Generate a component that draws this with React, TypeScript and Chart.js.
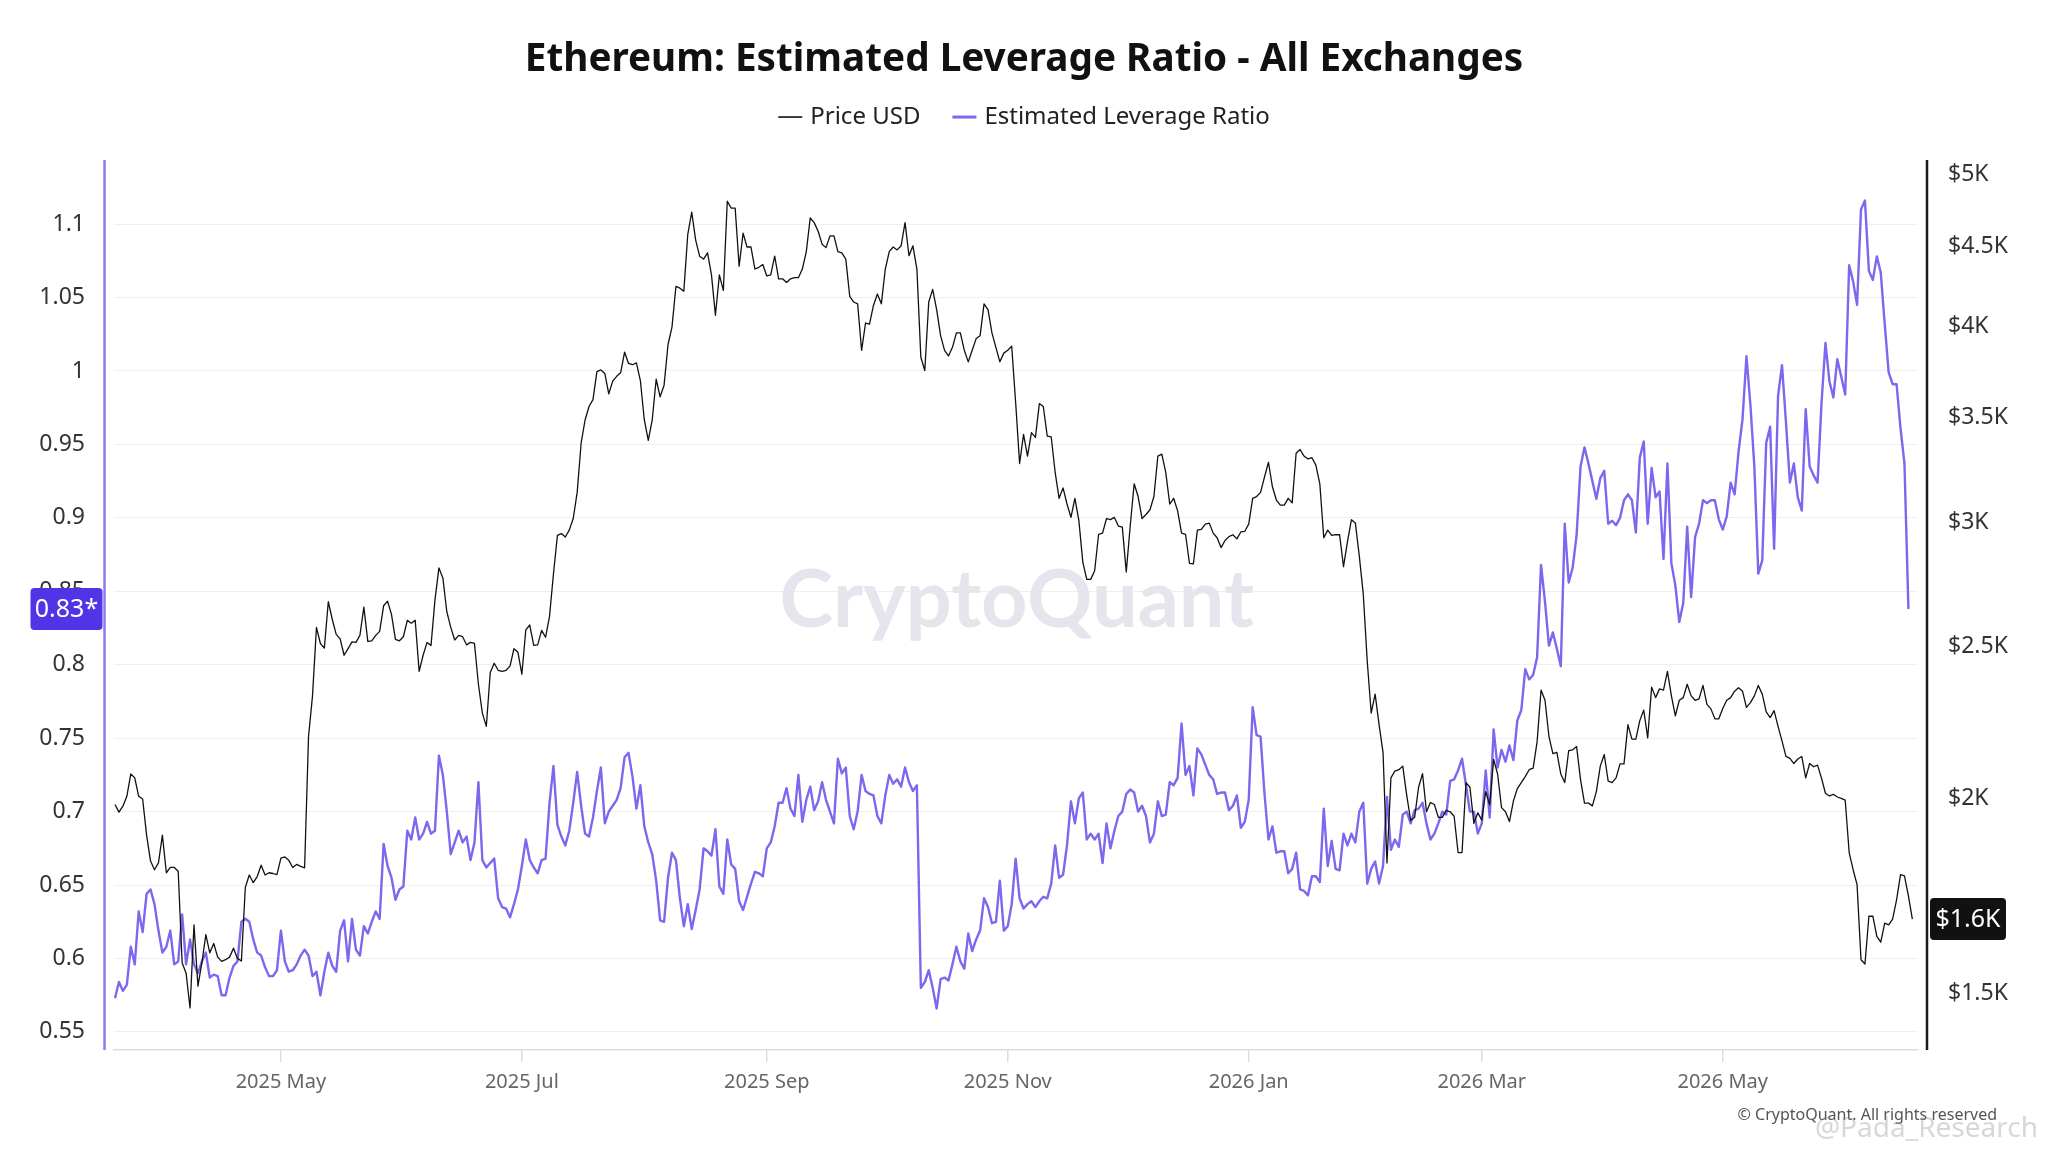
import { useEffect, useRef } from 'react';
import { Chart, registerables } from 'chart.js';

Chart.register(...registerables);

// ---------------- data ----------------
const START_DATE = '2025-03-20';

const priceUsd = [
  1981, 1959, 1976, 2005, 2072, 2060, 2005, 1997, 1894, 1823,
  1800, 1818, 1894, 1792, 1806, 1806, 1796, 1570, 1546, 1469,
  1660, 1517, 1570, 1636, 1593, 1615, 1583, 1573, 1577, 1583,
  1604, 1580, 1574, 1754, 1786, 1766, 1782, 1812, 1786, 1792,
  1790, 1787, 1831, 1834, 1825, 1806, 1814, 1809, 1805, 2190,
  2324, 2570, 2510, 2493, 2669, 2601, 2544, 2527, 2467, 2491,
  2516, 2514, 2540, 2648, 2518, 2520, 2540, 2555, 2653, 2671,
  2619, 2525, 2520, 2535, 2597, 2586, 2597, 2409, 2467, 2514,
  2503, 2675, 2805, 2764, 2630, 2570, 2523, 2540, 2535, 2505,
  2514, 2510, 2364, 2266, 2222, 2405, 2438, 2413, 2409, 2413,
  2428, 2491, 2478, 2399, 2561, 2579, 2503, 2505, 2559, 2533,
  2612, 2781, 2942, 2950, 2935, 2965, 3016, 3134, 3369, 3486,
  3556, 3592, 3743, 3752, 3733, 3623, 3691, 3717, 3736, 3852,
  3788, 3781, 3791, 3694, 3486, 3383, 3486, 3701, 3607, 3669,
  3895, 3996, 4242, 4231, 4213, 4580, 4731, 4541, 4435, 4416,
  4457, 4315, 4066, 4315, 4217, 4808, 4759, 4759, 4370, 4588,
  4495, 4495, 4352, 4363, 4381, 4308, 4315, 4435, 4290, 4290,
  4267, 4290, 4297, 4297, 4352, 4465, 4691, 4659, 4600, 4514,
  4491, 4569, 4569, 4465, 4457, 4416, 4181, 4146, 4135, 3862,
  4020, 4013, 4125, 4195, 4135, 4352, 4465, 4495, 4476, 4503,
  4659, 4438, 4503, 4352, 3823, 3749, 4146, 4224, 4100, 3946,
  3862, 3830, 3879, 3962, 3962, 3862, 3797, 3862, 3929, 3946,
  4135, 4100, 3962, 3879, 3797, 3846, 3862, 3885, 3577, 3270,
  3413, 3306, 3422, 3398, 3571, 3556, 3404, 3401, 3228, 3107,
  3155, 3081, 3021, 3107, 3008, 2829, 2758, 2758, 2793, 2947,
  2952, 3016, 3011, 3021, 2983, 2978, 2788, 2983, 3174, 3115,
  3016, 3034, 3055, 3115, 3306, 3315, 3228, 3081, 3107, 3050,
  2952, 2947, 2824, 2822, 2965, 2968, 2991, 2996, 2952, 2932,
  2890, 2920, 2937, 2945, 2927, 2957, 2960, 2991, 3107, 3115,
  3134, 3206, 3276, 3160, 3099, 3076, 3076, 3107, 3086, 3320,
  3338, 3306, 3292, 3298, 3262, 3174, 2932, 2965, 2942, 2945,
  2945, 2810, 2915, 3011, 2996, 2853, 2699, 2446, 2266, 2330,
  2228, 2139, 1818, 2060, 2081, 2085, 2096, 2008, 1935, 1944,
  2032, 2073, 1960, 1987, 1981, 1944, 1944, 1964, 1960, 1947,
  1846, 1846, 2046, 2032, 1927, 1957, 1936, 2019, 1980, 2117,
  2072, 1972, 1960, 1932, 1991, 2028, 2046, 2064, 2085, 2090,
  2172, 2344, 2309, 2190, 2135, 2139, 2072, 2046, 2144, 2147,
  2157, 2055, 1985, 1985, 1977, 2019, 2096, 2132, 2050, 2046,
  2060, 2103, 2103, 2228, 2181, 2181, 2241, 2276, 2185, 2354,
  2318, 2348, 2344, 2409, 2324, 2257, 2309, 2318, 2364, 2324,
  2309, 2314, 2360, 2295, 2280, 2247, 2247, 2281, 2309, 2318,
  2340, 2352, 2340, 2285, 2301, 2324, 2360, 2330, 2270, 2251,
  2274, 2222, 2175, 2126, 2120, 2104, 2118, 2126, 2060, 2104,
  2094, 2099, 2059, 2014, 2006, 2011, 2003, 1999, 1994, 1846,
  1800, 1761, 1577, 1567, 1681, 1681, 1632, 1618, 1664, 1660,
  1674, 1722, 1787, 1784, 1732, 1674,
];

const leverageRatio = [
  0.573, 0.584, 0.578, 0.582, 0.608, 0.596, 0.632, 0.618, 0.644, 0.647,
  0.637, 0.619, 0.604, 0.608, 0.619, 0.596, 0.598, 0.630, 0.596, 0.613,
  0.596, 0.590, 0.598, 0.604, 0.587, 0.589, 0.588, 0.575, 0.575, 0.587,
  0.595, 0.598, 0.625, 0.627, 0.625, 0.613, 0.604, 0.602, 0.594, 0.588,
  0.588, 0.592, 0.619, 0.598, 0.591, 0.592, 0.596, 0.602, 0.606, 0.602,
  0.588, 0.591, 0.575, 0.591, 0.604, 0.595, 0.591, 0.619, 0.626, 0.598,
  0.627, 0.606, 0.602, 0.622, 0.617, 0.625, 0.632, 0.627, 0.678, 0.663,
  0.655, 0.640, 0.647, 0.649, 0.687, 0.681, 0.696, 0.681, 0.685, 0.693,
  0.685, 0.687, 0.738, 0.725, 0.700, 0.671, 0.679, 0.687, 0.679, 0.683,
  0.667, 0.679, 0.720, 0.667, 0.662, 0.665, 0.668, 0.641, 0.635, 0.634,
  0.628, 0.637, 0.647, 0.663, 0.681, 0.667, 0.662, 0.658, 0.667, 0.668,
  0.706, 0.731, 0.691, 0.683, 0.677, 0.687, 0.706, 0.727, 0.704, 0.685,
  0.683, 0.696, 0.714, 0.730, 0.692, 0.700, 0.704, 0.708, 0.716, 0.737,
  0.740, 0.724, 0.702, 0.718, 0.690, 0.679, 0.671, 0.653, 0.626, 0.625,
  0.655, 0.672, 0.667, 0.641, 0.622, 0.637, 0.620, 0.633, 0.647, 0.675,
  0.673, 0.670, 0.688, 0.649, 0.644, 0.681, 0.664, 0.661, 0.639, 0.633,
  0.642, 0.651, 0.659, 0.658, 0.656, 0.675, 0.679, 0.690, 0.706, 0.706,
  0.716, 0.702, 0.697, 0.725, 0.693, 0.708, 0.717, 0.701, 0.707, 0.720,
  0.708, 0.700, 0.692, 0.736, 0.726, 0.730, 0.697, 0.688, 0.700, 0.725,
  0.714, 0.712, 0.711, 0.697, 0.692, 0.711, 0.725, 0.719, 0.722, 0.717,
  0.730, 0.720, 0.714, 0.718, 0.580, 0.584, 0.592, 0.580, 0.566, 0.586,
  0.587, 0.585, 0.596, 0.608, 0.598, 0.593, 0.617, 0.605, 0.613, 0.619,
  0.641, 0.635, 0.624, 0.625, 0.653, 0.619, 0.622, 0.637, 0.668, 0.641,
  0.634, 0.637, 0.639, 0.635, 0.639, 0.642, 0.641, 0.651, 0.677, 0.655,
  0.657, 0.677, 0.707, 0.692, 0.709, 0.713, 0.681, 0.685, 0.681, 0.685,
  0.665, 0.692, 0.675, 0.687, 0.697, 0.700, 0.712, 0.715, 0.713, 0.700,
  0.704, 0.697, 0.679, 0.685, 0.707, 0.697, 0.698, 0.720, 0.718, 0.723,
  0.760, 0.725, 0.731, 0.711, 0.743, 0.739, 0.732, 0.725, 0.722, 0.712,
  0.713, 0.713, 0.701, 0.704, 0.711, 0.689, 0.693, 0.708, 0.771, 0.752,
  0.751, 0.712, 0.681, 0.690, 0.672, 0.673, 0.673, 0.658, 0.661, 0.672,
  0.647, 0.646, 0.643, 0.656, 0.656, 0.652, 0.702, 0.663, 0.680, 0.661,
  0.660, 0.685, 0.677, 0.685, 0.679, 0.700, 0.706, 0.651, 0.661, 0.666,
  0.651, 0.663, 0.710, 0.674, 0.681, 0.676, 0.698, 0.700, 0.692, 0.701,
  0.702, 0.706, 0.692, 0.681, 0.685, 0.692, 0.700, 0.698, 0.721, 0.722,
  0.728, 0.736, 0.718, 0.700, 0.700, 0.685, 0.692, 0.728, 0.696, 0.756,
  0.730, 0.742, 0.734, 0.745, 0.735, 0.762, 0.769, 0.797, 0.790, 0.793,
  0.805, 0.868, 0.843, 0.813, 0.822, 0.811, 0.799, 0.896, 0.856, 0.866,
  0.888, 0.935, 0.948, 0.937, 0.925, 0.913, 0.927, 0.932, 0.896, 0.898,
  0.895, 0.900, 0.912, 0.916, 0.912, 0.890, 0.941, 0.952, 0.896, 0.934,
  0.914, 0.918, 0.872, 0.937, 0.869, 0.854, 0.829, 0.842, 0.894, 0.846,
  0.887, 0.896, 0.912, 0.910, 0.912, 0.912, 0.899, 0.892, 0.901, 0.924,
  0.916, 0.945, 0.967, 1.010, 0.977, 0.935, 0.862, 0.871, 0.951, 0.962,
  0.879, 0.983, 1.004, 0.965, 0.924, 0.937, 0.914, 0.905, 0.974, 0.935,
  0.929, 0.924, 0.978, 1.019, 0.993, 0.982, 1.008, 0.996, 0.984, 1.072,
  1.061, 1.045, 1.110, 1.116, 1.068, 1.062, 1.078, 1.067, 1.032, 0.999,
  0.991, 0.991, 0.961, 0.937, 0.838,
];

const leverageTicks = [0.55, 0.6, 0.65, 0.7, 0.75, 0.8, 0.85, 0.9, 0.95, 1, 1.05, 1.1];
const priceTicks = [1500, 2000, 2500, 3000, 3500, 4000, 4500, 5000];
const monthTickDates = ['2025-05-01', '2025-07-01', '2025-09-01', '2025-11-01', '2026-01-01', '2026-03-01', '2026-05-01'];
const monthTickLabels = ['2025 May', '2025 Jul', '2025 Sep', '2025 Nov', '2026 Jan', '2026 Mar', '2026 May'];

const LEVERAGE_RANGE = [0.5377, 1.1436];
const PRICE_RANGE = [1381, 5108];
const DAY_RANGE = [-0.25, 456.3];

const TITLE = 'Ethereum: Estimated Leverage Ratio - All Exchanges';
const SERIES_NAMES = ['Price USD', 'Estimated Leverage Ratio'];

// ---------------- styles ----------------
const FONT = "'Noto Sans', 'DejaVu Sans', sans-serif";
const PURPLE = '#7B68EE';
const PRICE_COLOR = '#111111';

function dayOffset(iso: string): number {
  return Math.round((Date.parse(iso) - Date.parse(START_DATE)) / 86400000);
}

const monthTickDays = monthTickDates.map(dayOffset);

function roundRect(ctx: CanvasRenderingContext2D, x: number, y: number, w: number, h: number, r: number) {
  ctx.beginPath();
  ctx.moveTo(x + r, y);
  ctx.lineTo(x + w - r, y);
  ctx.quadraticCurveTo(x + w, y, x + w, y + r);
  ctx.lineTo(x + w, y + h - r);
  ctx.quadraticCurveTo(x + w, y + h, x + w - r, y + h);
  ctx.lineTo(x + r, y + h);
  ctx.quadraticCurveTo(x, y + h, x, y + h - r);
  ctx.lineTo(x, y + r);
  ctx.quadraticCurveTo(x, y, x + r, y);
  ctx.closePath();
}

const watermarkPlugin = {
  id: 'cqWatermark',
  beforeDatasetsDraw(chart: any) {
    const { ctx, chartArea } = chart;
    ctx.save();
    ctx.font = "bold 81px 'Lato', 'Noto Sans', sans-serif";
    ctx.fillStyle = '#e6e5ed';
    ctx.textAlign = 'center';
    ctx.textBaseline = 'alphabetic';
    const cx = chartArea.left + (chartArea.right - chartArea.left) * 0.50;
    ctx.fillText('CryptoQuant', cx + 1, chartArea.top + 467);
    ctx.restore();
  },
};

const decorPlugin = {
  id: 'decor',
  afterDraw(chart: any) {
    const { ctx, chartArea, width, height } = chart;
    const yL = chart.scales.y;
    const yR = chart.scales.y1;
    ctx.save();

    // axis lines
    const leftX = chartArea.left - 9.5;
    const rightX = chartArea.right + 9.5;
    ctx.lineWidth = 2.5;
    ctx.strokeStyle = '#8A7BEF';
    ctx.beginPath();
    ctx.moveTo(leftX, chartArea.top);
    ctx.lineTo(leftX, chartArea.bottom);
    ctx.stroke();
    ctx.strokeStyle = '#1a1a1a';
    ctx.beginPath();
    ctx.moveTo(rightX, chartArea.top);
    ctx.lineTo(rightX, chartArea.bottom);
    ctx.stroke();

    // legend
    ctx.font = `24px ${FONT}`;
    ctx.textBaseline = 'middle';
    ctx.textAlign = 'left';
    const marker = 24;
    const gap = 8;
    const itemGap = 32;
    const widths = SERIES_NAMES.map((t) => ctx.measureText(t).width);
    const total = widths.reduce((a, b) => a + b, 0) + 2 * (marker + gap) + itemGap;
    let x = width / 2 - total / 2;
    const ly = chartArea.top - 44;
    const legendColors = [PRICE_COLOR, PURPLE];
    const legendWidths = [1.6, 3];
    SERIES_NAMES.forEach((t, i) => {
      ctx.strokeStyle = legendColors[i];
      ctx.lineWidth = legendWidths[i];
      ctx.beginPath();
      ctx.moveTo(x, ly + 1);
      ctx.lineTo(x + marker, ly + 1);
      ctx.stroke();
      x += marker + gap;
      ctx.fillStyle = '#222';
      ctx.fillText(t, x, ly + 1);
      x += widths[i] + itemGap;
    });

    // last value boxes
    const lastLev = leverageRatio[leverageRatio.length - 1];
    const lastPrice = priceUsd[priceUsd.length - 1];
    const levY = yL.getPixelForValue(lastLev);
    const prY = yR.getPixelForValue(lastPrice);
    ctx.font = `25px ${FONT}`;
    ctx.textAlign = 'center';

    const bw1 = 72, bh = 42;
    const bx1 = leftX - 2 - bw1;
    ctx.fillStyle = '#5035E6';
    roundRect(ctx, bx1, levY - bh / 2, bw1, bh, 4);
    ctx.fill();
    ctx.fillStyle = '#ffffff';
    ctx.fillText((Math.floor(lastLev * 100) / 100).toFixed(2) + '*', bx1 + bw1 / 2, levY + 1);

    const bw2 = 76;
    const bx2 = rightX + 3;
    ctx.fillStyle = '#111111';
    roundRect(ctx, bx2, prY - bh / 2, bw2, bh, 4);
    ctx.fill();
    ctx.fillStyle = '#ffffff';
    ctx.fillText('$' + (Math.floor(lastPrice / 100) / 10).toFixed(1) + 'K', bx2 + bw2 / 2, prY + 1);

    // footer
    ctx.textAlign = 'right';
    ctx.font = `16px ${FONT}`;
    ctx.fillStyle = '#555';
    ctx.fillText('\u00A9 CryptoQuant. All rights reserved', width - 51, height - 37);
    ctx.font = `28px ${FONT}`;
    ctx.fillStyle = 'rgba(140,140,140,0.35)';
    ctx.fillText('@Pada_Research', width - 10, height - 23);

    ctx.restore();
  },
};

export default function App() {
  const canvasRef = useRef<HTMLCanvasElement | null>(null);

  useEffect(() => {
    document.body.style.margin = '0';
    const canvas = canvasRef.current;
    if (!canvas) return;

    const chart = new Chart(canvas, {
      type: 'line',
      data: {
        datasets: [
          {
            label: SERIES_NAMES[0],
            data: priceUsd.map((v, i) => ({ x: i, y: v })),
            yAxisID: 'y1',
            borderColor: PRICE_COLOR,
            backgroundColor: PRICE_COLOR,
            borderWidth: 1.3,
            pointRadius: 0,
            tension: 0,
            borderJoinStyle: 'round',
          },
          {
            label: SERIES_NAMES[1],
            data: leverageRatio.map((v, i) => ({ x: i, y: v })),
            yAxisID: 'y',
            borderColor: PURPLE,
            backgroundColor: PURPLE,
            borderWidth: 2.4,
            pointRadius: 0,
            tension: 0,
            borderJoinStyle: 'round',
          },
        ],
      },
      options: {
        animation: false,
        responsive: false,
        events: [],
        layout: { padding: 0 },
        plugins: {
          legend: { display: false },
          tooltip: { enabled: false },
          title: {
            display: true,
            text: TITLE,
            color: '#111',
            font: { family: FONT, size: 38.7, weight: 'bold', lineHeight: 1.2 },
            padding: { top: 37, bottom: 76.6 },
          },
        },
        scales: {
          x: {
            type: 'linear',
            min: DAY_RANGE[0],
            max: DAY_RANGE[1],
            afterBuildTicks: (scale: any) => {
              scale.ticks = monthTickDays.map((d) => ({ value: d }));
            },
            afterFit: (scale: any) => {
              scale.height = 102;
            },
            ticks: {
              autoSkip: false,
              maxRotation: 0,
              padding: 8,
              color: '#666',
              font: { family: FONT, size: 20 },
              callback: (_v: any, i: number) => monthTickLabels[i],
            },
            grid: {
              drawOnChartArea: false,
              drawTicks: true,
              tickLength: 12,
              color: '#dddddd',
              lineWidth: 1.5,
            },
            border: { display: true, color: '#dddddd', width: 1.5 },
          },
          y: {
            type: 'linear',
            position: 'left',
            min: LEVERAGE_RANGE[0],
            max: LEVERAGE_RANGE[1],
            afterBuildTicks: (scale: any) => {
              scale.ticks = leverageTicks.map((v) => ({ value: v }));
            },
            afterFit: (scale: any) => {
              scale.width = 114;
            },
            ticks: {
              padding: 29,
              color: '#333',
              font: { family: FONT, size: 23 },
              callback: (v: any) => String(parseFloat(Number(v).toFixed(2))),
            },
            grid: { color: '#efefef', lineWidth: 1, drawTicks: false },
            border: { display: false },
          },
          y1: {
            type: 'logarithmic',
            position: 'right',
            min: PRICE_RANGE[0],
            max: PRICE_RANGE[1],
            afterBuildTicks: (scale: any) => {
              scale.ticks = priceTicks.map((v) => ({ value: v }));
            },
            afterFit: (scale: any) => {
              scale.width = 130.5;
            },
            ticks: {
              padding: 30.5,
              color: '#333',
              font: { family: FONT, size: 23 },
              callback: (v: any) => '$' + Number(v) / 1000 + 'K',
            },
            grid: { display: false, drawTicks: false },
            border: { display: false },
          },
        },
      },
      plugins: [watermarkPlugin, decorPlugin],
    } as any);

    return () => chart.destroy();
  }, []);

  return (
    <div style={{ width: 2048, height: 1152, background: '#ffffff' }}>
      <canvas ref={canvasRef} width={2048} height={1152} style={{ display: 'block' }} />
    </div>
  );
}
